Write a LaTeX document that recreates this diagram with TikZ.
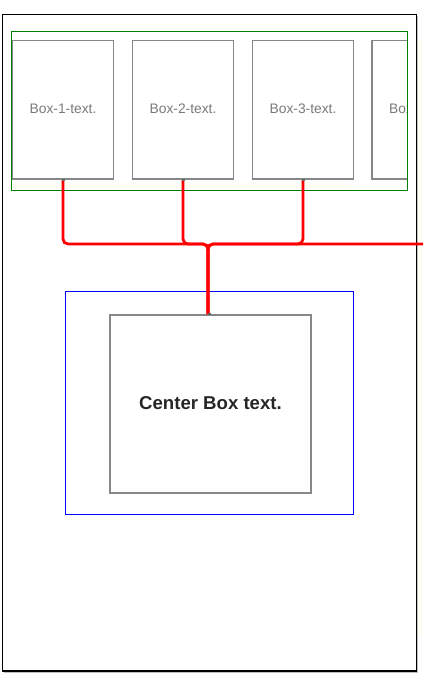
\documentclass[tikz,border=0pt]{standalone}
\usepackage{fontspec}
\setmainfont{Liberation Sans}
\begin{document}
\begin{tikzpicture}[x=1pt,y=-1pt,
  smallbox/.style={draw=black!47, line width=1.8pt, inner sep=0pt, text=black!52, font=\fontsize{13.8}{16}\selectfont},
  link/.style={draw=red, line width=2.8pt, rounded corners=5pt},
  port/.style={fill=black!60, inner sep=0pt, minimum width=3pt, minimum height=2pt}]
\useasboundingbox (0,0) rectangle (423,677);
\fill[white] (0,0) rectangle (423,677);
% scrollbar strip
\fill[black!4!yellow!3] (418,40) rectangle (423,635);
% outer frame with shadow
\fill[black!25] (4,16) rectangle (418,673);
\draw[black, line width=1.2pt, fill=white] (2.5,14.5) rectangle (416.5,671);
% green container
\begin{scope}
\clip (11.5,31.5) rectangle (407.5,190);
\node[smallbox, minimum width=101pt, minimum height=138.5pt] (b1) at (63,109.75) {\raisebox{1.5pt}{Box-1-text.}};
\node[smallbox, minimum width=101pt, minimum height=138.5pt] (b2) at (183,109.75) {\raisebox{1.5pt}{Box-2-text.}};
\node[smallbox, minimum width=101pt, minimum height=138.5pt] (b3) at (303,109.75) {\raisebox{1.5pt}{Box-3-text.}};
\node[smallbox, minimum width=101pt, minimum height=138.5pt] (b4) at (422.5,109.75) {\raisebox{1.5pt}{Box-4-text.}};
\fill[black!5!yellow!4] (12,183) rectangle (350,188);
\end{scope}
\draw[green!50!black, line width=0.8pt] (11.5,31.5) rectangle (407.5,190);
% blue container
\node[draw=blue, line width=0.8pt, minimum width=288pt, minimum height=223pt, inner sep=0pt] (cont) at (209.5,403) {};
\node[draw=black!47, line width=1.8pt, minimum width=201pt, minimum height=178pt, inner sep=0pt, text=black!85, font=\bfseries\fontsize{18.6}{21}\selectfont] (c) at (210.5,404) {\raisebox{1pt}{Center Box text.}};
% connectors
\coordinate (right) at (423,244);
\draw[link] (b1.south) |- (208,244) -- (c.north -| 208,0);
\draw[link] (b2.south) |- (208,244) -- (c.north -| 208,0);
\draw[link] (b3.south) |- (208,244) -- (c.north -| 208,0);
\draw[link] (right) -- (208,244) -- (c.north -| 208,0);
% ports
\node[port] at (b1.south) {};
\node[port] at (b2.south) {};
\node[port] at (b3.south) {};
\node[port] at ([xshift=1pt]c.north -| 208,0) {};
\end{tikzpicture}
\end{document}
